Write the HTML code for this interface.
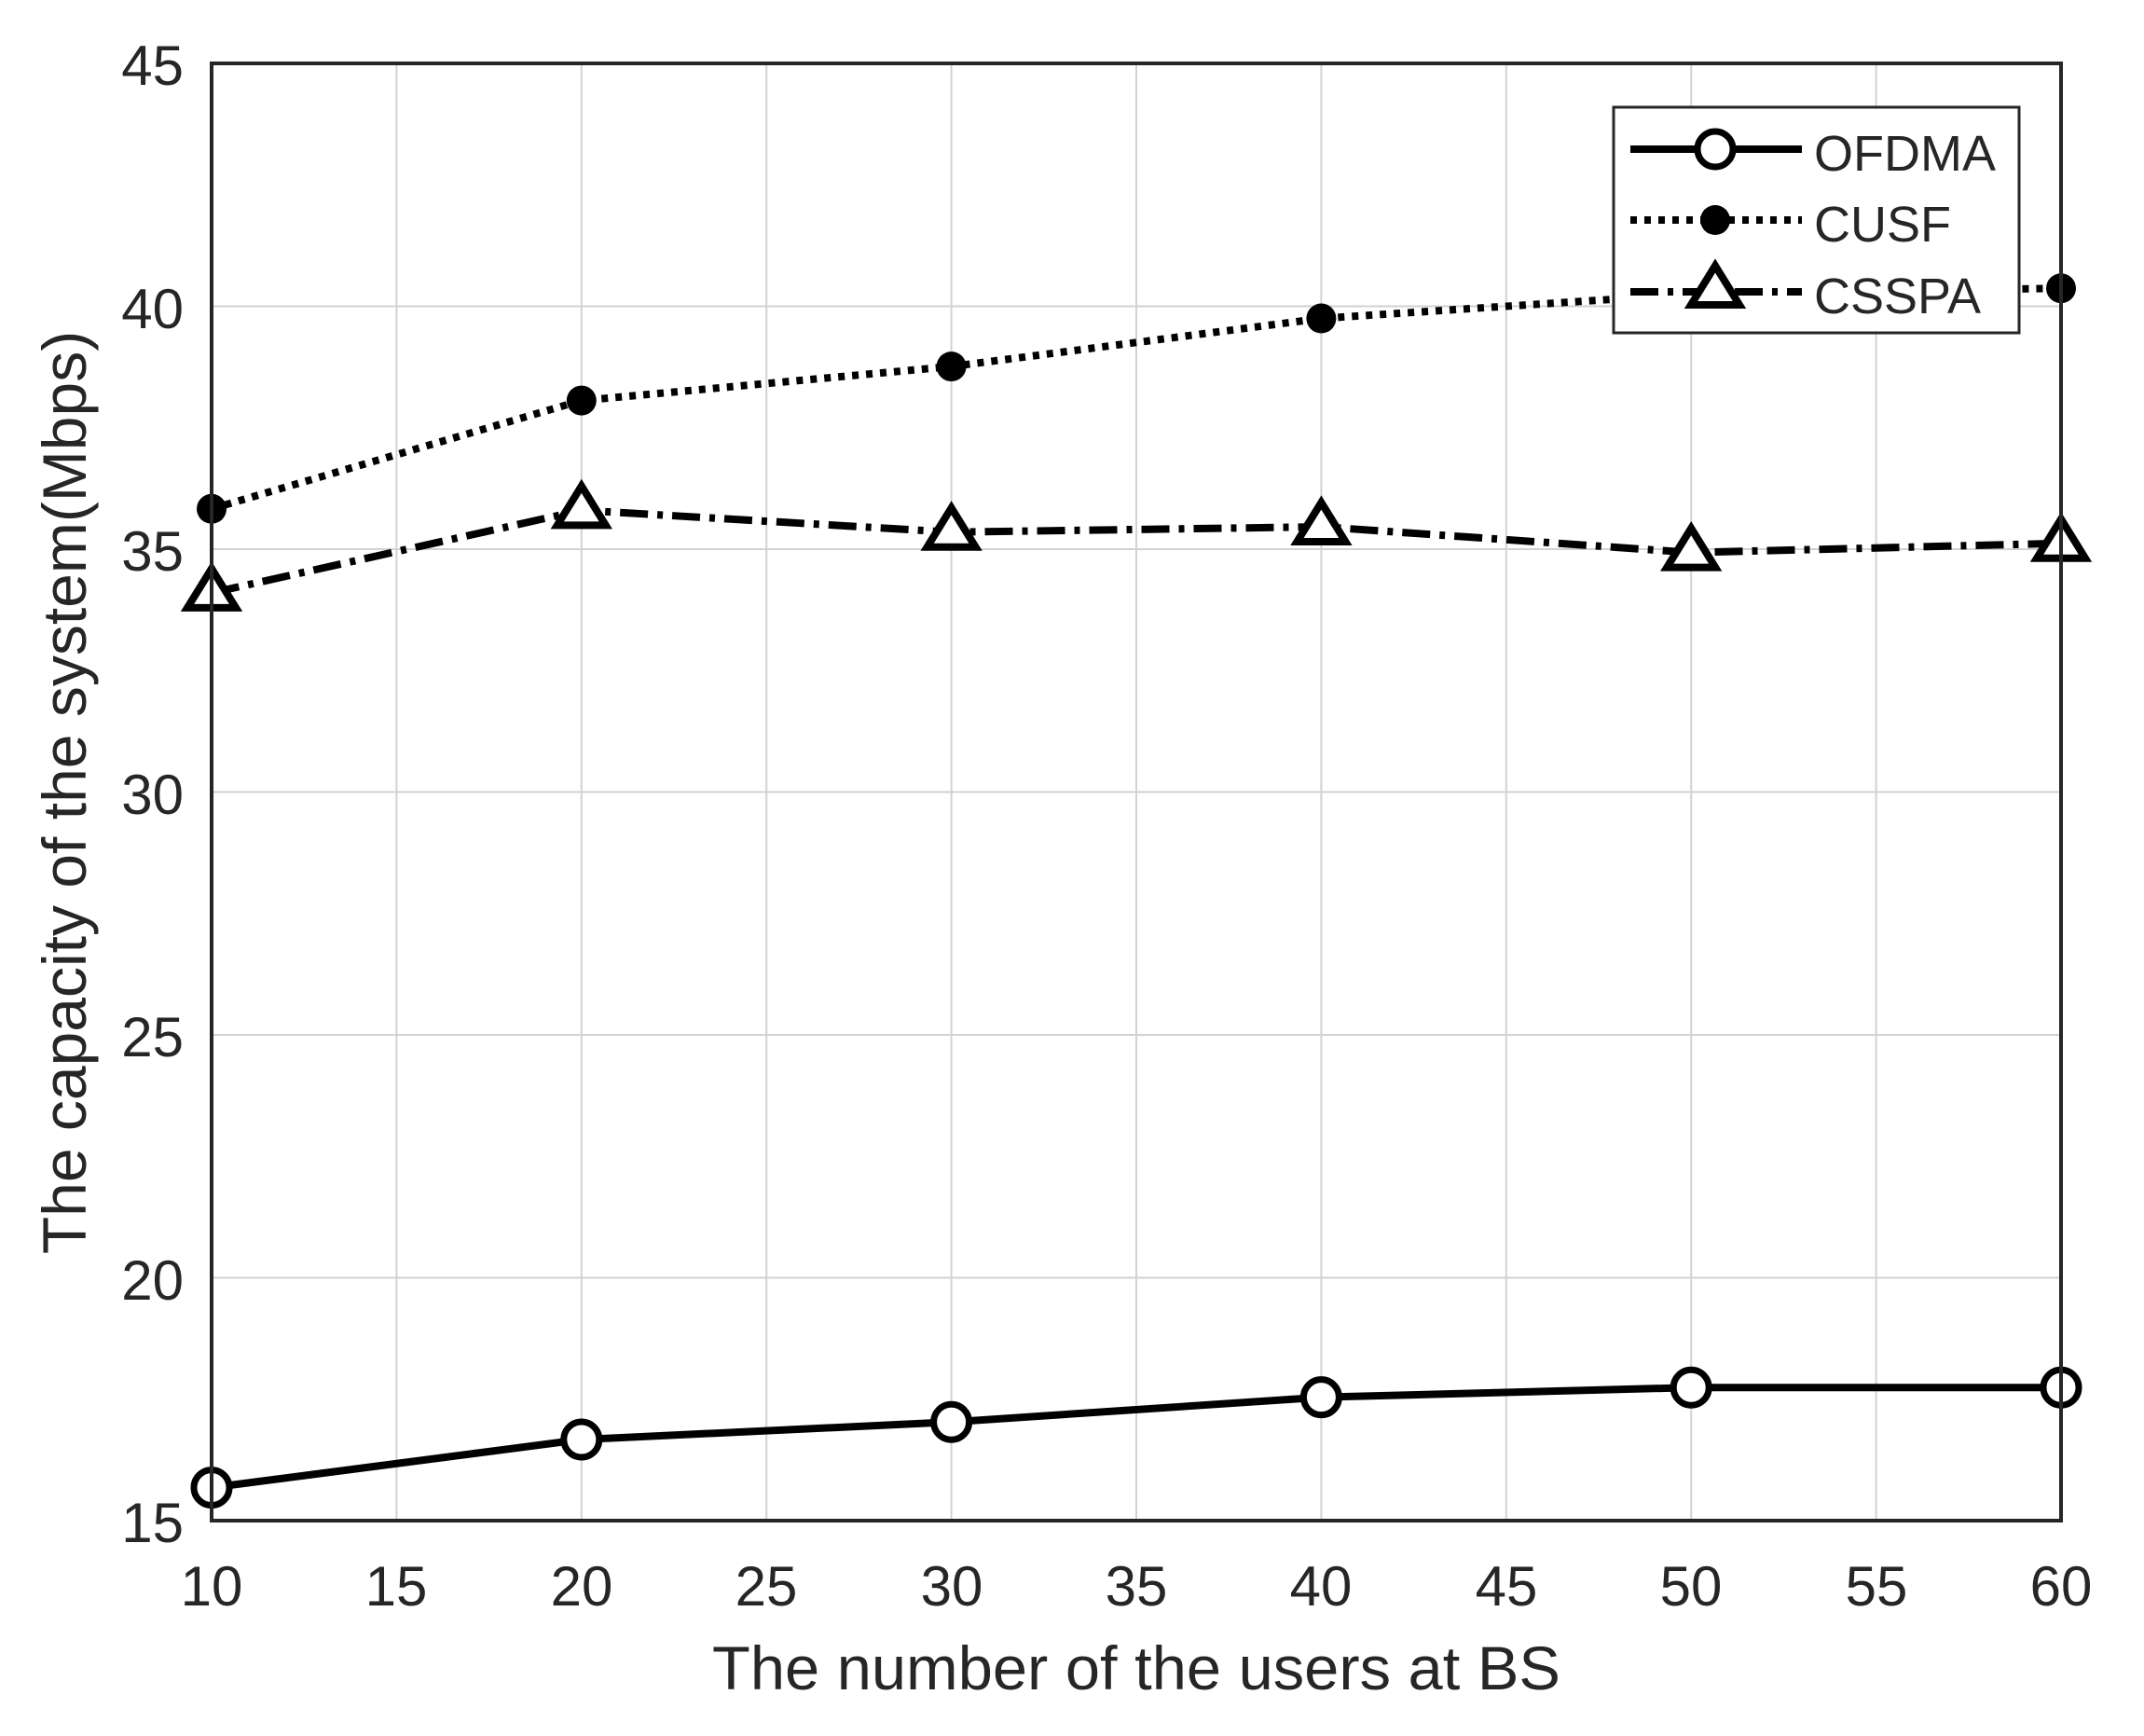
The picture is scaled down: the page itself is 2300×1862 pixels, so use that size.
<!DOCTYPE html>
<html><head><meta charset="utf-8"><style>
html,body{margin:0;padding:0;background:#fff;}
svg{display:block;}
text{font-family:"Liberation Sans",Arial,sans-serif;fill:#262626;}
</style></head><body>
<svg id="s" width="2300" height="1862" viewBox="0 0 2300 1862" xmlns="http://www.w3.org/2000/svg">
<g id="grid" stroke="#d2d2d2" stroke-width="2"></g>
<g id="series"></g>
<rect x="227" y="68" width="1984" height="1563" fill="none" stroke="#262626" stroke-width="4"/>
<g font-size="60" text-anchor="middle">
<text x="227" y="1722">10</text><text x="425" y="1722">15</text><text x="624" y="1722">20</text>
<text x="822" y="1722">25</text><text x="1021" y="1722">30</text><text x="1219" y="1722">35</text>
<text x="1417" y="1722">40</text><text x="1616" y="1722">45</text><text x="1814" y="1722">50</text>
<text x="2013" y="1722">55</text><text x="2211" y="1722">60</text>
</g>
<g font-size="60" text-anchor="end">
<text x="197" y="91">45</text><text x="197" y="352">40</text><text x="197" y="612">35</text>
<text x="197" y="873">30</text><text x="197" y="1133">25</text><text x="197" y="1394">20</text>
<text x="197" y="1654">15</text>
</g>
<text x="1219" y="1812" font-size="66" text-anchor="middle" textLength="910" lengthAdjust="spacingAndGlyphs">The number of the users at BS</text>
<text transform="translate(92,850) rotate(-90)" font-size="66" text-anchor="middle">The capacity of the system(Mbps)</text>
<g id="legend">
<rect x="1731" y="115" width="435" height="242" fill="#fff" stroke="#262626" stroke-width="3"/>
<line x1="1749" y1="160" x2="1933" y2="160" stroke="#000" stroke-width="8"/>
<circle cx="1840" cy="160" r="19" fill="#fff" stroke="#000" stroke-width="7"/>
<line x1="1749" y1="236" x2="1933" y2="236" stroke="#000" stroke-width="8" stroke-dasharray="7 8"/>
<circle cx="1840" cy="236" r="16" fill="#000"/>
<line x1="1749" y1="313" x2="1933" y2="313" stroke="#000" stroke-width="8" stroke-dasharray="30 10 6 10"/>
<polygon points="1840,285 1866,327 1814,327" fill="#fff" stroke="#000" stroke-width="8"/>
<g font-size="54"><text x="1946" y="183">OFDMA</text><text x="1946" y="259">CUSF</text><text x="1946" y="336">CSSPA</text></g>
</g>
</svg>
<script>
var X=function(v){return 227+(v-10)*39.68},Y=function(v){return 68+(45-v)*52.1};
var ns="http://www.w3.org/2000/svg",g=document.getElementById('grid'),s=document.getElementById('series');
function el(p,t,a){var e=document.createElementNS(ns,t);for(var k in a)e.setAttribute(k,a[k]);p.appendChild(e);return e;}
for(var v=15;v<60;v+=5)el(g,'line',{x1:X(v),y1:68,x2:X(v),y2:1631});
for(var v=20;v<45;v+=5)el(g,'line',{x1:227,y1:Y(v),x2:2211,y2:Y(v)});
var xs=[10,20,30,40,50,60];
var of=[15.68,16.67,17.03,17.54,17.74,17.74],cu=[35.83,38.06,38.76,39.75,40.25,40.37],cs=[34.1,35.8,35.35,35.46,34.93,35.12];
function pts(d){return xs.map(function(x,i){return X(x)+','+Y(d[i])}).join(' ')}
el(s,'polyline',{points:pts(cu),fill:'none',stroke:'#000','stroke-width':8,'stroke-dasharray':'7 8'});
el(s,'polyline',{points:pts(cs),fill:'none',stroke:'#000','stroke-width':8,'stroke-dasharray':'30 10 6 10'});
el(s,'polyline',{points:pts(of),fill:'none',stroke:'#000','stroke-width':8});
xs.forEach(function(x,i){
 el(s,'circle',{cx:X(x),cy:Y(of[i]),r:19,fill:'#fff',stroke:'#000','stroke-width':7});
 el(s,'circle',{cx:X(x),cy:Y(cu[i]),r:16,fill:'#000'});
 var cx=X(x),cy=Y(cs[i]);
 el(s,'polygon',{points:cx+','+(cy-26)+' '+(cx+26)+','+(cy+16)+' '+(cx-26)+','+(cy+16),fill:'#fff',stroke:'#000','stroke-width':8});
});
</script>
</body></html>
